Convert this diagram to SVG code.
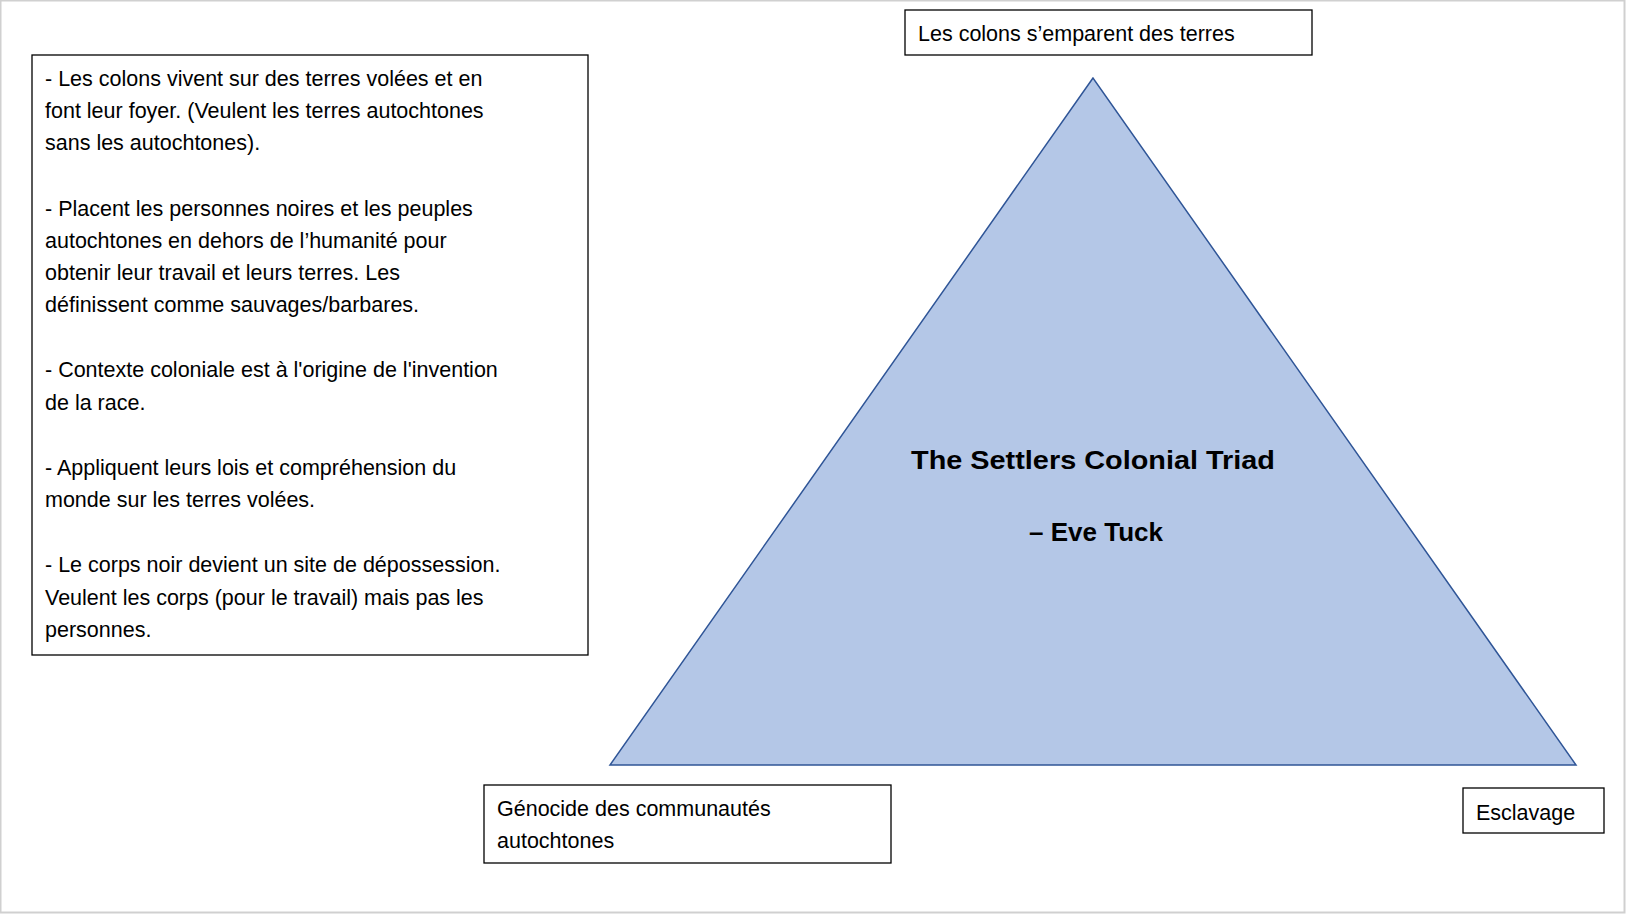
<svg xmlns="http://www.w3.org/2000/svg" width="1626" height="914" viewBox="0 0 1626 914">
<style>
.t{font-family:"Liberation Sans",Arial,sans-serif;font-size:21.5px;fill:#000}
.b{fill:#fff;stroke:#000;stroke-width:1.3}
.c{font-family:"Liberation Sans",Arial,sans-serif;font-size:26px;font-weight:bold;text-anchor:middle}
</style>
<rect x="0.5" y="0.5" width="1624" height="912" fill="#fff" stroke="#d0d0d0" stroke-width="2"/>
<g id="triad"><polygon points="1093,78 610,765 1576,765" fill="#B4C7E7" stroke="#2F5597" stroke-width="1.5"/>
<text class="c" x="1093" y="469" textLength="364" lengthAdjust="spacingAndGlyphs">The Settlers Colonial Triad</text>
<text class="c" x="1096" y="541">– Eve Tuck</text></g>
<g id="top"><rect class="b" x="905" y="10" width="407" height="45"/><text class="t" x="918" y="41">Les colons s’emparent des terres</text></g>
<g id="genocide"><rect class="b" x="484" y="785" width="407" height="78"/><text class="t" x="497" y="816">Génocide des communautés</text><text class="t" x="497" y="848">autochtones</text></g>
<g id="esclavage"><rect class="b" x="1463" y="788" width="141" height="45"/><text class="t" x="1476" y="820">Esclavage</text></g>
<g id="notes"><rect class="b" x="32" y="55" width="556" height="600"/>
<text class="t" x="45" y="86">- Les colons vivent sur des terres volées et en</text>
<text class="t" x="45" y="118">font leur foyer. (Veulent les terres autochtones</text>
<text class="t" x="45" y="150">sans les autochtones).</text>
<text class="t" x="45" y="216">- Placent les personnes noires et les peuples</text>
<text class="t" x="45" y="248">autochtones en dehors de l’humanité pour</text>
<text class="t" x="45" y="280">obtenir leur travail et leurs terres. Les</text>
<text class="t" x="45" y="312">définissent comme sauvages/barbares.</text>
<text class="t" x="45" y="377">- Contexte coloniale est à l'origine de l'invention</text>
<text class="t" x="45" y="410">de la race.</text>
<text class="t" x="45" y="475">- Appliquent leurs lois et compréhension du</text>
<text class="t" x="45" y="507">monde sur les terres volées.</text>
<text class="t" x="45" y="572">- Le corps noir devient un site de dépossession.</text>
<text class="t" x="45" y="605">Veulent les corps (pour le travail) mais pas les</text>
<text class="t" x="45" y="637">personnes.</text></g>
<g id="connectors"></g>
</svg>
